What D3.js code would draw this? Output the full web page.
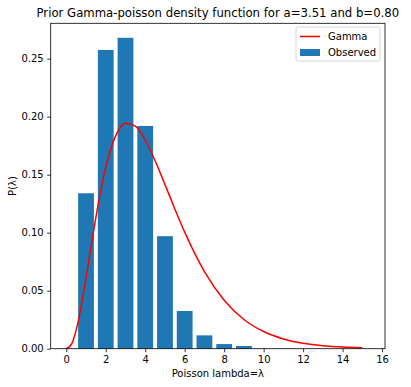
<!DOCTYPE html>
<html lang="en">
<head>
  <meta charset="UTF-8">
  <title>Prior Gamma-poisson density</title>
  <script src="https://d3js.org/d3.v7.min.js"></script>
  <style>
    body { margin: 0; background: #fff; font-family: "DejaVu Sans", sans-serif; }
    .axis text { font-size: 10px; fill: #000; font-family: "DejaVu Sans", sans-serif; }
    .axis path, .axis line { stroke: #000; stroke-width: 0.8; }
  </style>
</head>
<body>
<svg width="411" height="387"></svg>
<script>
  // observed bars (lambda = 1..9)
  const barX = [1, 2, 3, 4, 5, 6, 7, 8, 9];
  const observed = [0.134, 0.2575, 0.268, 0.192, 0.097, 0.0325, 0.0115, 0.004, 0.0023];

  // gamma curve
  const gammaX = [0, 0.25, 0.5, 0.75, 1, 1.25, 1.5, 2, 2.5, 3, 3.5, 4, 4.5, 5, 5.5, 6, 7, 8, 9, 10, 11, 12, 13, 14, 15];
  const gammaY = [0, 0.0034, 0.016, 0.0363, 0.0611, 0.0876, 0.1133, 0.1564, 0.1835, 0.1944, 0.1919, 0.1799, 0.162,
                  0.1415, 0.1205, 0.1005, 0.0665, 0.0418, 0.0252, 0.0148, 0.0084, 0.0047, 0.0026, 0.0014, 0.00075];

  const xTicks = [0, 2, 4, 6, 8, 10, 12, 14, 16];
  const yTicks = [0, 0.05, 0.10, 0.15, 0.20, 0.25];

  const mLeft = 50.7, mRight = 385, mTop = 23.3, mBottom = 348.7;

  const svg = d3.select("svg");
  const x = d3.scaleLinear().domain([-0.79, 16.15]).range([mLeft, mRight]);
  const y = d3.scaleLinear().domain([0, 0.2805]).range([mBottom, mTop]);

  // bars
  const bw = x(0.8) - x(0);
  svg.append("g").selectAll("rect")
    .data(barX.map((v, i) => ({ x: v, y: observed[i] })))
    .join("rect")
    .attr("x", d => x(d.x) - bw / 2)
    .attr("y", d => y(d.y))
    .attr("width", bw)
    .attr("height", d => y(0) - y(d.y))
    .attr("fill", "#1f77b4");

  // gamma line
  const line = d3.line()
    .x(d => x(d[0]))
    .y(d => y(d[1]))
    .curve(d3.curveMonotoneX);
  svg.append("path")
    .datum(gammaX.map((v, i) => [v, gammaY[i]]))
    .attr("d", line)
    .attr("fill", "none")
    .attr("stroke", "red")
    .attr("stroke-width", 1.5);

  // axes
  svg.append("g")
    .attr("class", "axis")
    .attr("transform", `translate(0,${mBottom})`)
    .call(d3.axisBottom(x).tickValues(xTicks).tickFormat(d3.format("d")).tickSize(3.5).tickPadding(3.5))
    .call(g => g.select(".domain").remove());

  svg.append("g")
    .attr("class", "axis")
    .attr("transform", `translate(${mLeft},0)`)
    .call(d3.axisLeft(y).tickValues(yTicks).tickFormat(d3.format(".2f")).tickSize(3.5).tickPadding(3.5))
    .call(g => g.select(".domain").remove());

  // frame
  svg.append("rect")
    .attr("x", mLeft).attr("y", mTop)
    .attr("width", mRight - mLeft).attr("height", mBottom - mTop)
    .attr("fill", "none").attr("stroke", "#000").attr("stroke-width", 0.8);

  // title and labels
  svg.append("text")
    .attr("x", (mLeft + mRight) / 2).attr("y", 17)
    .attr("text-anchor", "middle")
    .attr("font-size", 11.7)
    .text("Prior Gamma-poisson density function for a=3.51 and b=0.80");

  svg.append("text")
    .attr("x", (mLeft + mRight) / 2).attr("y", 377)
    .attr("text-anchor", "middle")
    .attr("font-size", 10)
    .text("Poisson lambda=λ");

  svg.append("text")
    .attr("transform", `translate(16,${(mTop + mBottom) / 2}) rotate(-90)`)
    .attr("text-anchor", "middle")
    .attr("font-size", 10)
    .text("P(λ)");

  // legend
  const lg = svg.append("g").attr("transform", "translate(296,27)");
  lg.append("rect")
    .attr("width", 84).attr("height", 34).attr("rx", 2)
    .attr("fill", "#fff").attr("fill-opacity", 0.8)
    .attr("stroke", "#ccc").attr("stroke-width", 0.8);
  lg.append("line")
    .attr("x1", 4).attr("x2", 24).attr("y1", 9.5).attr("y2", 9.5)
    .attr("stroke", "red").attr("stroke-width", 1.5);
  lg.append("rect")
    .attr("x", 4).attr("y", 22).attr("width", 20).attr("height", 7)
    .attr("fill", "#1f77b4");
  lg.append("text").attr("x", 32).attr("y", 13).attr("font-size", 10).text("Gamma");
  lg.append("text").attr("x", 32).attr("y", 29).attr("font-size", 10).text("Observed");
</script>
</body>
</html>
